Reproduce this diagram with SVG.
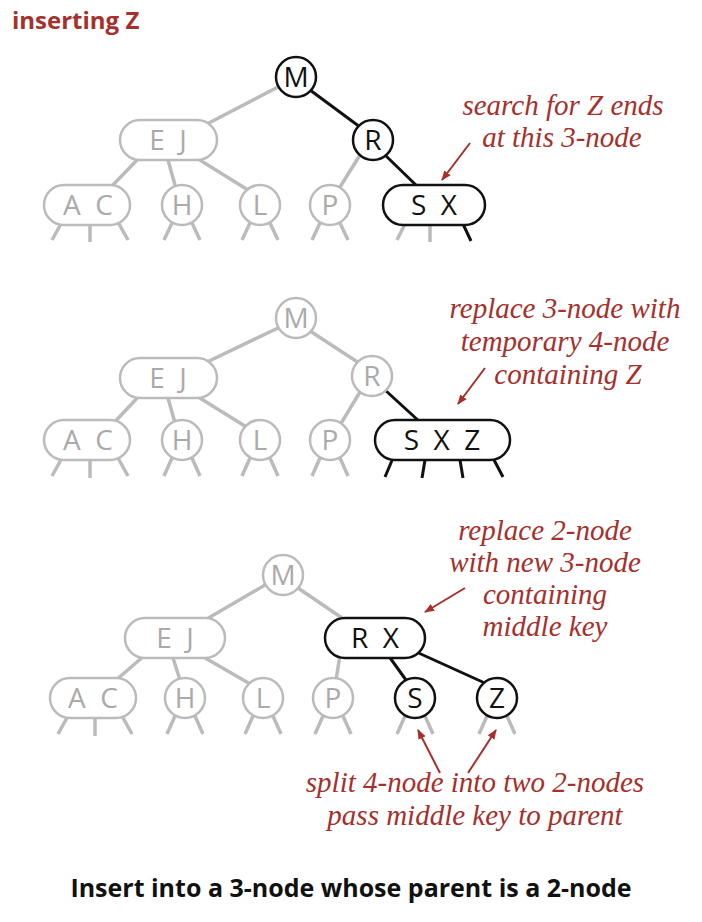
<svg xmlns="http://www.w3.org/2000/svg" width="702" height="922" viewBox="0 0 702 922">
<defs>
<marker id="ah" viewBox="0 0 10 10" refX="9" refY="5" markerWidth="5" markerHeight="5" orient="auto"><path d="M0,1 L10,5 L0,9 z" fill="#a6302c"/></marker>
<style>
.g{stroke:#bbb;stroke-width:3.5;fill:none}
.b{stroke:#111;stroke-width:3;fill:none}
.gn{fill:#fff;stroke:#bbb;stroke-width:2.5}
.bn{fill:#fff;stroke:#111;stroke-width:2.5}
.gt{font-family:"Open Sans","Liberation Sans",sans-serif;font-size:28px;fill:#aaa;text-anchor:middle}
.bt{font-family:"Open Sans","Liberation Sans",sans-serif;font-size:28px;fill:#111;text-anchor:middle}
.a{font-family:"Liberation Serif",serif;font-style:italic;font-size:29px;fill:#a6302c;text-anchor:middle}
.ar{stroke:#a6302c;stroke-width:2;fill:none;marker-end:url(#ah)}
</style>
</defs>
<rect width="702" height="922" fill="#fff"/>
<text x="12" y="29" font-family="Open Sans,Liberation Sans,sans-serif" font-weight="bold" font-size="24" fill="#a6302c">inserting Z</text>
<g id="connectors">
<path class="g" d="M278,87 L205,125 M140,157 L110,188 M168,160 L175,185 M195,157 L248,190 M360,155 L340,187"/>
<path class="b" d="M310,90 L360,127 M385,155 L418,187 M463,224 L471,241"/>
<path class="g" d="M62,222 L52,240 M90,225 L90,242 M118,222 L128,240 M172,223 L164,240 M192,223 L200,240 M250,223 L242,240 M270,223 L278,240 M320,223 L312,240 M340,223 L348,240 M405,224 L397,240 M430,225 L430,242"/>
<path class="g" d="M278,328 L205,363 M310,331 L359,363 M140,395 L110,427 M168,398 L175,423 M195,395 L248,428 M360,392 L340,425"/>
<path class="b" d="M385,390 L420,422 M393,458 L385,477 M425,460 L422,478 M460,460 L463,478 M493,458 L503,477"/>
<path class="g" d="M62,458 L52,476 M90,460 L90,478 M118,458 L128,476 M172,458 L164,476 M192,458 L200,476 M250,458 L242,476 M270,458 L278,476 M320,458 L312,476 M340,458 L348,476"/>
<path class="g" d="M265,585 L205,620 M298,588 L345,620 M145,655 L115,681 M173,658 L180,680 M200,655 L252,685 M340,655 L336,680"/>
<path class="b" d="M388,655 L406,680 M412,650 L487,684"/>
<path class="g" d="M68,716 L58,734 M95,718 L95,736 M122,716 L132,734 M175,716 L167,734 M195,716 L203,734 M253,716 L245,734 M273,716 L281,734 M323,716 L315,734 M343,716 L351,734 M405,716 L397,734 M425,716 L433,734 M487,716 L479,734 M507,716 L515,734"/>
<path class="ar" d="M470,143 L442,180"/>
<path class="ar" d="M485,368 L458,404"/>
<path class="ar" d="M465,588 L425,612"/>
<path class="ar" d="M440,773 L418,730"/>
<path class="ar" d="M468,773 L496,730"/>
</g>
<g id="t1M"><circle class="bn" cx="296" cy="77" r="20"/><text class="bt" x="296" y="87">M</text></g>
<g id="t1EJ"><rect class="gn" x="120" y="120" width="97" height="40" rx="20"/><text class="gt" x="168" y="150" xml:space="preserve">E  J</text></g>
<g id="t1R"><circle class="bn" cx="373" cy="140" r="20"/><text class="bt" x="373" y="150">R</text></g>
<g id="t1AC"><rect class="gn" x="44" y="185" width="86" height="40" rx="20"/><text class="gt" x="88" y="215" xml:space="preserve">A  C</text></g>
<g id="t1H"><circle class="gn" cx="182" cy="205" r="20"/><text class="gt" x="182" y="215">H</text></g>
<g id="t1L"><circle class="gn" cx="260" cy="205" r="20"/><text class="gt" x="260" y="215">L</text></g>
<g id="t1P"><circle class="gn" cx="330" cy="205" r="20"/><text class="gt" x="330" y="215">P</text></g>
<g id="t1SX"><rect class="bn" x="383" y="185" width="102" height="40" rx="20"/><text class="bt" x="434" y="215" xml:space="preserve">S  X</text></g>
<g id="t2M"><circle class="gn" cx="296" cy="318" r="20"/><text class="gt" x="296" y="328">M</text></g>
<g id="t2EJ"><rect class="gn" x="120" y="358" width="97" height="40" rx="20"/><text class="gt" x="168" y="388" xml:space="preserve">E  J</text></g>
<g id="t2R"><circle class="gn" cx="372" cy="376" r="20"/><text class="gt" x="372" y="386">R</text></g>
<g id="t2AC"><rect class="gn" x="44" y="420" width="86" height="40" rx="20"/><text class="gt" x="88" y="450" xml:space="preserve">A  C</text></g>
<g id="t2H"><circle class="gn" cx="182" cy="440" r="20"/><text class="gt" x="182" y="450">H</text></g>
<g id="t2L"><circle class="gn" cx="260" cy="440" r="20"/><text class="gt" x="260" y="450">L</text></g>
<g id="t2P"><circle class="gn" cx="330" cy="440" r="20"/><text class="gt" x="330" y="450">P</text></g>
<g id="t2SXZ"><rect class="bn" x="375" y="420" width="135" height="40" rx="20"/><text class="bt" x="442" y="450" xml:space="preserve">S  X  Z</text></g>
<g id="t3M"><circle class="gn" cx="283" cy="575" r="20"/><text class="gt" x="283" y="585">M</text></g>
<g id="t3EJ"><rect class="gn" x="125" y="618" width="100" height="40" rx="20"/><text class="gt" x="175" y="648" xml:space="preserve">E  J</text></g>
<g id="t3RX"><rect class="bn" x="325" y="618" width="100" height="40" rx="20"/><text class="bt" x="375" y="648" xml:space="preserve">R  X</text></g>
<g id="t3AC"><rect class="gn" x="50" y="678" width="86" height="40" rx="20"/><text class="gt" x="93" y="708" xml:space="preserve">A  C</text></g>
<g id="t3H"><circle class="gn" cx="185" cy="698" r="20"/><text class="gt" x="185" y="708">H</text></g>
<g id="t3L"><circle class="gn" cx="263" cy="698" r="20"/><text class="gt" x="263" y="708">L</text></g>
<g id="t3P"><circle class="gn" cx="333" cy="698" r="20"/><text class="gt" x="333" y="708">P</text></g>
<g id="t3S"><circle class="bn" cx="415" cy="698" r="20"/><text class="bt" x="415" y="708">S</text></g>
<g id="t3Z"><circle class="bn" cx="497" cy="698" r="20"/><text class="bt" x="497" y="708">Z</text></g>
<text class="a" x="563" y="115">search for Z ends</text>
<text class="a" x="562" y="147">at this 3-node</text>
<text class="a" x="565" y="318">replace 3-node with</text>
<text class="a" x="565" y="351">temporary 4-node</text>
<text class="a" x="568" y="384">containing Z</text>
<text class="a" x="545" y="540">replace 2-node</text>
<text class="a" x="545" y="572">with new 3-node</text>
<text class="a" x="545" y="604">containing</text>
<text class="a" x="545" y="636">middle key</text>
<text class="a" x="475" y="792">split 4-node into two 2-nodes</text>
<text class="a" x="475" y="825">pass middle key to parent</text>
<text x="351" y="897" text-anchor="middle" font-family="Open Sans,Liberation Sans,sans-serif" font-weight="bold" font-size="25" fill="#111">Insert into a 3-node whose parent is a 2-node</text>
</svg>
